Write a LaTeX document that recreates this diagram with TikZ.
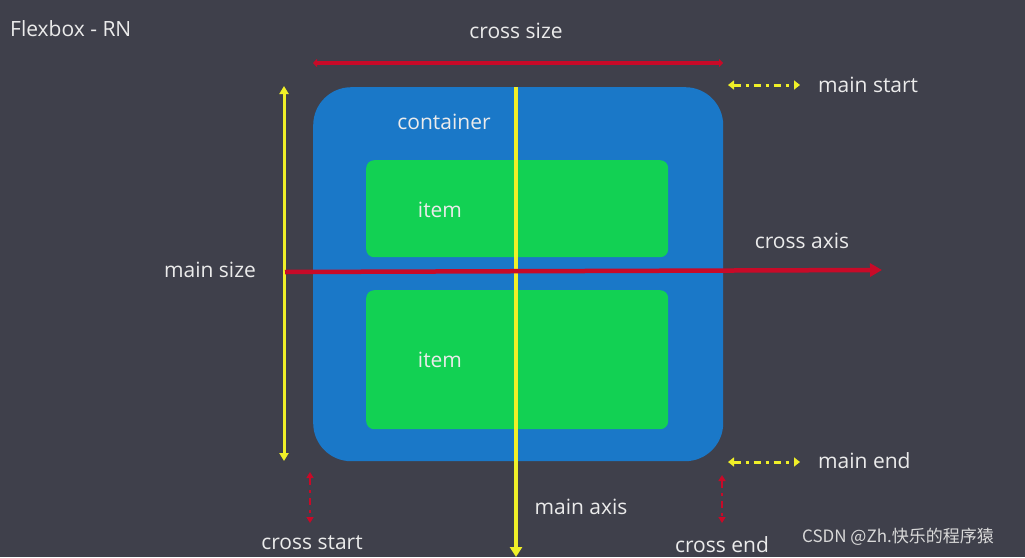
\documentclass[tikz,border=0pt]{standalone}
\usepackage{fontspec}
\setmainfont{Open Sans}
\newfontfamily\cjk{Noto Sans CJK SC}
\usetikzlibrary{arrows.meta}
\definecolor{bg}{RGB}{63,64,75}
\definecolor{cont}{RGB}{26,120,200}
\definecolor{itm}{RGB}{18,209,83}
\definecolor{ylw}{RGB}{240,240,40}
\definecolor{rd}{RGB}{200,10,40}
\begin{document}
\begin{tikzpicture}[x=1pt,y=-1pt,
  lbl/.style={text=white!92!black,font=\fontsize{21}{24}\selectfont,inner sep=0},
  itembox/.style={fill=itm,rounded corners=8pt,draw=none},
  yarrow/.style={ylw,line width=4pt,-{Triangle[length=10pt,width=12pt]}},
  rarrow/.style={rd,line width=4.5pt,-{Triangle[length=12pt,width=13pt]}},
  ydash/.style={ylw,line width=3pt,dash pattern=on 7pt off 5pt on 3pt off 5pt,{Triangle[length=6pt,width=9pt]}-{Triangle[length=6pt,width=9pt]}},
  rdash/.style={rd,line width=2.5pt,dash pattern=on 7pt off 5pt on 3pt off 5pt,{Triangle[length=6pt,width=7pt]}-{Triangle[length=6pt,width=7pt]}}]
\fill[bg] (0,0) rectangle (1025,557);
\useasboundingbox (0,0) rectangle (1025,557);
\node[lbl,anchor=west] (title) at (10,29) {Flexbox - RN};
\node[fill=cont,rounded corners=38pt,minimum width=410pt,minimum height=374pt,anchor=north west] (container) at (313,87) {};
\node[lbl] (ctext) at (444,122) {container};
\node[itembox,minimum width=302pt,minimum height=97pt,anchor=north west] (item1) at (366,160) {};
\node[itembox,minimum width=302pt,minimum height=139pt,anchor=north west] (item2) at (366,290) {};
\node[lbl] (i1) at (440,210) {item};
\node[lbl] (i2) at (440,360) {item};
% cross size
\node[lbl] (cs) at (516,31) {cross size};
\coordinate (csl) at (313,63); \coordinate (csr) at (723,63);
\draw[rd,line width=4.5pt,{Triangle[length=4pt,width=8pt]}-{Triangle[length=4pt,width=8pt]}] (csl) -- (csr);
% main size
\coordinate (mst) at (284,86); \coordinate (msb) at (284,461);
\draw[ylw,line width=3pt,{Triangle[length=8pt,width=9pt]}-{Triangle[length=8pt,width=9pt]}] (mst) -- (msb);
\node[lbl] (ms) at (210,270) {main size};
% axes
\coordinate (cat) at (516,87); \coordinate (cab) at (516,557);
\draw[yarrow] (cat) -- (cab);
\coordinate (cal) at (285,272); \coordinate (car) at (882,270);
\draw[rarrow] (cal) -- (car);
\node[lbl] (crossaxis) at (802,241) {cross axis};
\node[lbl] (mainaxis) at (581,507) {main axis};
% main start / end
\coordinate (m1a) at (728,85); \coordinate (m1b) at (800,85);
\draw[ydash] (m1a) -- (m1b);
\node[lbl,anchor=west] (mstart) at (818,85) {main start};
\coordinate (m2a) at (728,462); \coordinate (m2b) at (800,462);
\draw[ydash] (m2a) -- (m2b);
\node[lbl,anchor=west] (mend) at (818,461) {main end};
% cross start / end
\coordinate (c1a) at (310,472); \coordinate (c1b) at (310,523);
\draw[rdash] (c1a) -- (c1b);
\node[lbl] (cstart) at (312,543) {cross start};
\coordinate (c2a) at (722,475); \coordinate (c2b) at (722,523);
\draw[rdash] (c2a) -- (c2b);
\node[lbl] (cend) at (722,545) {cross end};
\node[text=white!85!black,font=\fontsize{17}{20}\selectfont\cjk,inner sep=0] (wm) at (898,537) {CSDN @Zh.快乐的程序猿};
\end{tikzpicture}
\end{document}
